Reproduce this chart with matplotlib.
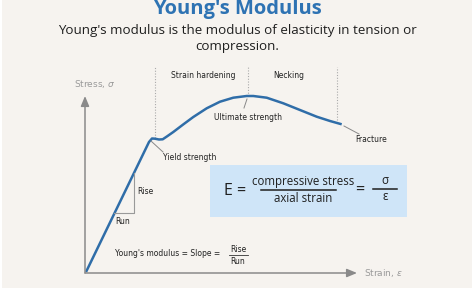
import matplotlib.pyplot as plt

# stress-strain curve (pixels from the origin)
strain = [1, 64, 67, 70, 74, 77.7, 82, 88.3, 98.3, 108.3, 121.7, 135, 148.3,
          161.7, 168.3, 181.7, 198.3, 215, 231.7, 245, 256.7]
stress = [1, 131, 134.5, 134.3, 133.5, 133.7, 136.6, 141, 148.6, 156, 164.7,
          171.3, 175.3, 177, 177, 175.3, 169.7, 163, 156.3, 152, 148.7]

# dotted region borders: strain, bottom stress
borders_x = [70, 163, 252]
borders_y0 = [135, 177.5, 153]
border_top = 206

regions = ["Strain hardening", "Necking"]
region_x = [118, 204]

title = "Young's Modulus"
subtitle = "Young's modulus is the modulus of elasticity in tension or\ncompression."

bg = '#f6f3ef'
blue = '#2f6da8'
grey = '#8a8a8a'

W, H = 474, 291
fig = plt.figure(figsize=(W / 100, H / 100), dpi=100, facecolor='white')

# page background
back = fig.add_axes([0, 0, 1, 1])
back.set_xlim(0, W)
back.set_ylim(H, 0)
back.axis('off')
back.add_patch(plt.Rectangle((2, -5), W - 4, H + 2, facecolor=bg, edgecolor='none'))

back.text(W / 2, 9, title, ha='center', va='center', fontsize=14.5,
          fontweight='bold', color='#2e73b3', family='Open Sans')
back.text(W / 2, 38.5, subtitle, ha='center', va='center', fontsize=9.6,
          color='#1f1f1f', family='Open Sans', linespacing=1.22)

# formula box
back.add_patch(plt.Rectangle((210, 165), 197, 52, facecolor='#cfe5f8', edgecolor='none'))
back.text(235, 191, "E =", ha='center', va='center', fontsize=11.5,
          color='#1f1f1f', family='Open Sans')
back.text(303, 182, "compressive stress", ha='center', va='center', fontsize=8.3,
          color='#1f1f1f', family='Open Sans')
back.text(303, 198, "axial strain", ha='center', va='center', fontsize=8.3,
          color='#1f1f1f', family='Open Sans')
back.plot([261, 336], [190, 190], color='#1f1f1f', lw=1.1)
back.text(360, 191, "=", ha='center', va='center', fontsize=11.5,
          color='#1f1f1f', family='Open Sans')
back.text(385, 181, "σ", ha='center', va='center', fontsize=8.3,
          color='#1f1f1f', family='Open Sans')
back.text(385, 197, "ε", ha='center', va='center', fontsize=8.3,
          color='#1f1f1f', family='Open Sans')
back.plot([373, 397], [189, 189], color='#1f1f1f', lw=1.1)

# diagram axes, origin at pixel (85, 273)
x0, y0 = 85, 273
ax = fig.add_axes([x0 / W, (H - y0) / H, 290 / W, 183 / H])
ax.set_xlim(0, 290)
ax.set_ylim(0, 183)
ax.axis('off')

ax.annotate('', xy=(272, 0), xytext=(0, 0),
            arrowprops=dict(arrowstyle='-|>,head_length=0.6,head_width=0.25',
                            color=grey, lw=1.1, shrinkA=0, shrinkB=0))
ax.annotate('', xy=(0, 177), xytext=(0, 0),
            arrowprops=dict(arrowstyle='-|>,head_length=0.6,head_width=0.25',
                            color=grey, lw=1.1, shrinkA=0, shrinkB=0))
ax.text(10, 189, "Stress, $\\sigma$", ha='center', va='center', fontsize=6.5,
        color='#9a9a9a', clip_on=False)
ax.text(298, 0, "Strain, $\\varepsilon$", ha='center', va='center', fontsize=6.5,
        color='#9a9a9a', clip_on=False)

for bx, by in zip(borders_x, borders_y0):
    ax.plot([bx, bx], [by, border_top], ls=(0, (1, 1.5)), color='#aaaaaa',
            lw=0.8, clip_on=False)
for name, rx in zip(regions, region_x):
    ax.text(rx, 197, name, ha='center', va='center', fontsize=5.5,
            color='#222222', clip_on=False)

ax.plot(strain, stress, color=blue, lw=1.8, solid_joinstyle='round',
        solid_capstyle='butt', clip_on=False)

# leaders
lab = dict(fontsize=5.5, color='#222222', va='center', clip_on=False)
ax.plot([66, 78], [132, 121], color='#888888', lw=0.7)
ax.text(78, 116, "Yield strength", ha='left', **lab)
ax.plot([162, 159], [174, 165], color='#888888', lw=0.7)
ax.text(163, 155, "Ultimate strength", ha='center', **lab)
ax.plot([259, 274], [147, 139], color='#888888', lw=0.7)
ax.text(286, 134, "Fracture", ha='center', **lab)

# rise / run triangle
ax.plot([29, 49, 49], [60, 60, 100], color='#999999', lw=0.8)
ax.text(52, 82, "Rise", ha='left', **lab)
ax.text(38, 51, "Run", ha='center', **lab)

ax.text(30, 19, "Young's modulus = Slope =", ha='left', **lab)
ax.text(153, 24, "Rise", ha='center', **lab)
ax.text(153, 11, "Run", ha='center', **lab)
ax.plot([144, 163], [18, 18], color='#333333', lw=0.6)

fig.savefig('out.png', dpi=100, facecolor='white')
